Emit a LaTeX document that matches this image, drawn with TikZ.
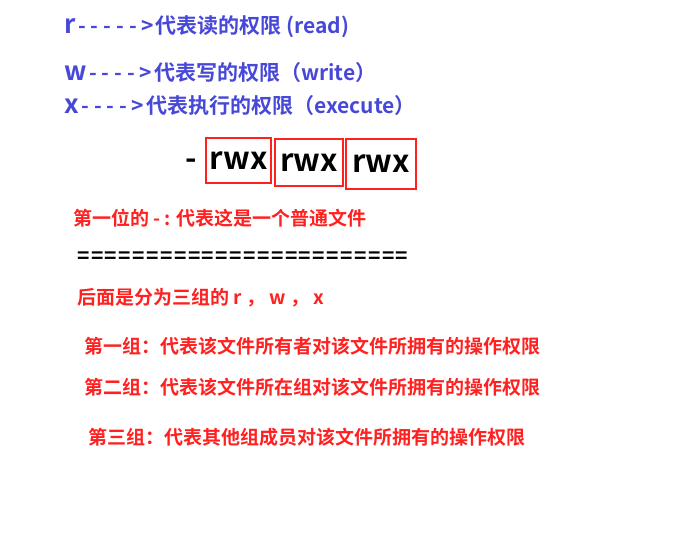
\documentclass[tikz,border=0pt]{standalone}
\usepackage{fontspec}
\setmainfont{Noto Sans CJK SC}[BoldFont={* Bold}]
\definecolor{bl}{HTML}{4848D8}
\definecolor{rd}{HTML}{FF2020}
\newcommand{\dsh}{\kern2.5pt-\kern2.5pt}
\begin{document}
\begin{tikzpicture}[x=1pt,y=-1pt,
  bt/.style={anchor=west,inner sep=0pt,text=bl,font=\bfseries\fontsize{21}{21}\selectfont},
  rt/.style={anchor=west,inner sep=0pt,text=rd,font=\bfseries\fontsize{19}{19}\selectfont},
  bx/.style={draw=rd,line width=2pt,minimum width=66pt,minimum height=45pt,inner sep=0pt,font=\bfseries\fontsize{31}{31}\selectfont}]
\useasboundingbox[fill=white] (0,0) rectangle (675,553);
\node[bt] (r) at (64,27) {{\fontsize{26}{26}\selectfont r}\dsh\dsh\dsh\dsh\dsh\kern2pt>\kern2pt代表读的权限 (read)};
\node[bt] (w) at (64,73) {{\fontsize{26}{26}\selectfont w}\dsh\dsh\dsh\dsh\kern2pt>\kern2pt代表写的权限（write）};
\node[bt] (x) at (64,106) {{\fontsize{26}{26}\selectfont x}\dsh\dsh\dsh\dsh\kern2pt>\kern2pt代表执行的权限（execute）};
\node[anchor=base east,inner sep=0pt,font=\bfseries\fontsize{31}{31}\selectfont] (d) at (197,170) {-};
\node[bx,minimum width=65pt] (b1) at (238.5,161) {rwx};
\node[bx,minimum width=68pt,minimum height=47pt] (b2) at (309,162.5) {rwx};
\node[bx,minimum width=70pt,minimum height=50pt] (b3) at (381,164) {rwx};
\node[rt] (t1) at (73,218) {第一位的 - : 代表这是一个普通文件};
\node[anchor=west,inner sep=0pt,font=\bfseries\fontsize{21}{21}\selectfont\addfontfeature{LetterSpace=7}] (eq) at (77,258) {========================};
\node[rt] (t2) at (77,298) {后面是分为三组的 r ， w ， x};
\node[rt] (t3) at (84,346) {第一组：代表该文件所有者对该文件所拥有的操作权限};
\node[rt] (t4) at (84,387) {第二组：代表该文件所在组对该文件所拥有的操作权限};
\node[rt] (t5) at (88,437) {第三组：代表其他组成员对该文件所拥有的操作权限};
\end{tikzpicture}
\end{document}
